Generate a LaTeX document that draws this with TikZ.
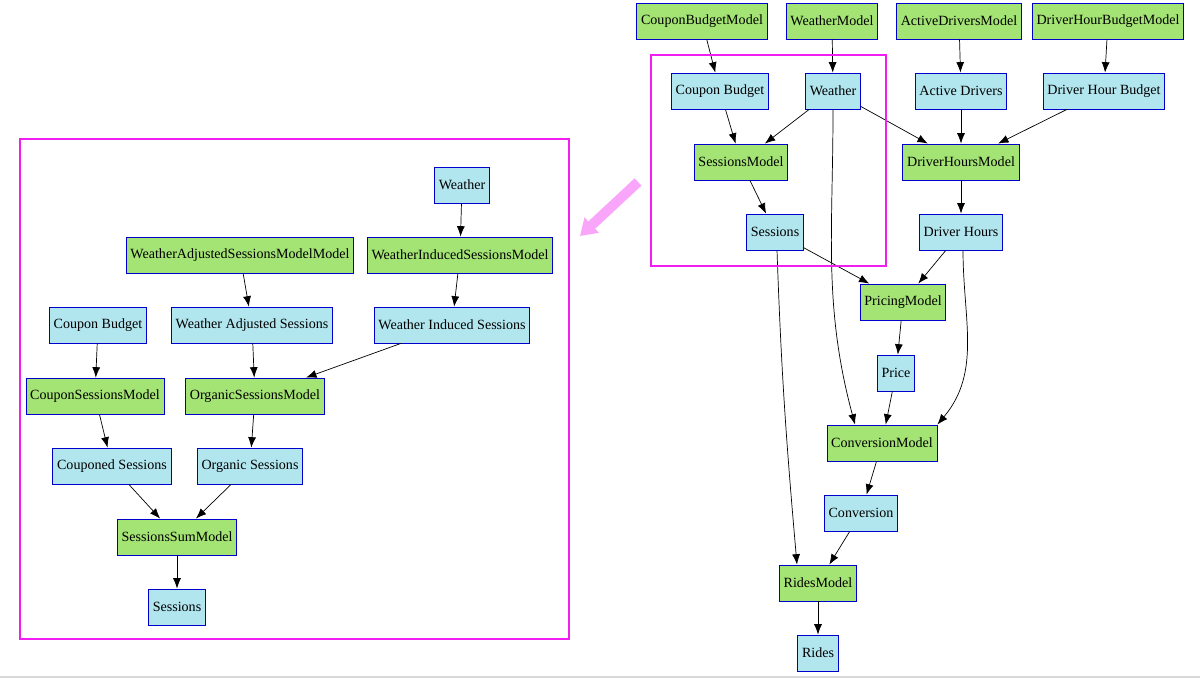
\documentclass[tikz,border=0pt]{standalone}
\usepackage{fontspec}
\setmainfont{Liberation Serif}
\usetikzlibrary{arrows.meta}
\definecolor{mgreen}{HTML}{A4E474}
\definecolor{mblue}{HTML}{B2E6EF}
\definecolor{mpink}{HTML}{F01EF0}
\begin{document}
\begin{tikzpicture}[x=0.025cm,y=-0.025cm,
  base/.style={draw=blue!80!black,line width=0.6pt,minimum height=0.9cm,inner xsep=3pt,
    font=\fontsize{10}{12}\selectfont},
  model/.style={base,fill=mgreen},
  var/.style={base,fill=mblue},
  edge/.style={-{Latex[length=2.6mm,width=2mm]},line width=0.5pt},
  frame/.style={draw=mpink,line width=1.3pt}]
\useasboundingbox (0,0) rectangle (1200,679);
\fill[white] (0,0) rectangle (1200,679);
\draw[gray!30,line width=1pt] (0,677) -- (1200,677);
% right graph
\node[model] (cbm) at (702,21) {CouponBudgetModel};
\node[model] (wm) at (832,21) {WeatherModel};
\node[model] (adm) at (959,21) {ActiveDriversModel};
\node[model] (dhbm) at (1108,21) {DriverHourBudgetModel};
\node[var] (cb) at (720,91) {Coupon Budget};
\node[var] (w) at (833,91) {Weather};
\node[var] (ad) at (961,91) {Active Drivers};
\node[var] (dhb) at (1104,91) {Driver Hour Budget};
\node[model] (sm) at (741,162) {SessionsModel};
\node[model] (dhm) at (961,162) {DriverHoursModel};
\node[var] (s) at (775,232) {Sessions};
\node[var] (dh) at (961,232) {Driver Hours};
\node[model] (pm) at (903,302) {PricingModel};
\node[var] (p) at (896,373) {Price};
\node[model] (cm) at (882,443) {ConversionModel};
\node[var] (c) at (861,513) {Conversion};
\node[model] (rm) at (818,583) {RidesModel};
\node[var] (r) at (818,653) {Rides};
\draw[edge] (cbm) -- (cb);
\draw[edge] (wm) -- (w);
\draw[edge] (adm) -- (ad);
\draw[edge] (dhbm) -- (dhb);
\draw[edge] (cb) -- (sm);
\draw[edge] (w) -- (sm);
\draw[edge] (w) -- (dhm);
\draw[edge] (ad) -- (dhm);
\draw[edge] (dhb) -- (dhm);
\draw[edge] (sm) -- (s);
\draw[edge] (dhm) -- (dh);
\draw[edge] (s) -- (pm);
\draw[edge] (dh) -- (pm);
\draw[edge] (pm) -- (p);
\draw[edge] (p) -- (cm);
\draw[edge] (w.south) to[out=-90,in=105] (cm.north west -| 855,425);
\draw[edge] (dh.south) ++(2,0) to[out=-90,in=50] (cm.north east);
\draw[edge] (cm) -- (c);
\draw[edge] (c) -- (rm);
\draw[edge] (s.south) ++(2,0) to[out=-88,in=95] (rm.north west -| 797,565);
\draw[edge] (rm) -- (r);
\draw[frame] (651,55) rectangle (886,266);
% zoom arrow
\draw[-{Triangle[length=4mm,width=5mm]},line width=2.5mm,color=mpink!40] (638,182) -- (580,236);
% left graph
\draw[frame] (20,139) rectangle (569,639);
\node[var] (lw) at (462,185) {Weather};
\node[model] (lwasmm) at (240,255) {WeatherAdjustedSessionsModelModel};
\node[model] (lwism) at (460,255) {WeatherInducedSessionsModel};
\node[var] (lcb) at (98,325) {Coupon Budget};
\node[var] (lwas) at (252,325) {Weather Adjusted Sessions};
\node[var] (lwis) at (452,325) {Weather Induced Sessions};
\node[model] (lcsm) at (95,396) {CouponSessionsModel};
\node[model] (losm) at (255,396) {OrganicSessionsModel};
\node[var] (lcs) at (112,466) {Couponed Sessions};
\node[var] (los) at (250,466) {Organic Sessions};
\node[model] (lssm) at (177,537) {SessionsSumModel};
\node[var] (ls) at (177,607) {Sessions};
\draw[edge] (lw) -- (lwism);
\draw[edge] (lwasmm) -- (lwas);
\draw[edge] (lwism) -- (lwis);
\draw[edge] (lcb) -- (lcsm);
\draw[edge] (lwas) -- (losm);
\draw[edge] (lwis) -- (losm);
\draw[edge] (lcsm) -- (lcs);
\draw[edge] (losm) -- (los);
\draw[edge] (lcs) -- (lssm);
\draw[edge] (los) -- (lssm);
\draw[edge] (lssm) -- (ls);
\end{tikzpicture}
\end{document}
